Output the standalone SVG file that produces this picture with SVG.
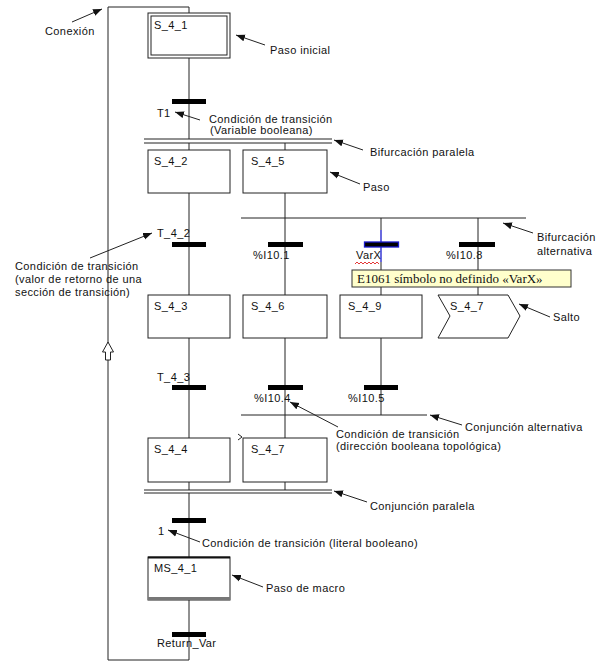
<svg xmlns="http://www.w3.org/2000/svg" width="600" height="669" viewBox="0 0 600 669">
<defs>
<marker id="ah" markerUnits="userSpaceOnUse" markerWidth="10" markerHeight="8" refX="9" refY="4" orient="auto">
<path d="M0,0.5 L9,4 L0,7.5 Z" fill="#111"/>
</marker>
<style>
text{font-family:"Liberation Sans",Arial,sans-serif;font-size:11px;letter-spacing:0.4px;fill:#111}
.st{fill:#fff;stroke:#222;stroke-width:1}
.ln{fill:none;stroke:#222;stroke-width:1}
.bar{fill:#000}
.ann{fill:none;stroke:#222;stroke-width:1;marker-end:url(#ah)}
</style>
</defs>
<rect width="600" height="669" fill="#fff"/>
<g id="connectors">
<path class="ln" d="M189,58 V139 M189,143 V150 M189,193 V295 M189,338 V438 M189,482 V490 M189,493 V557 M189,600 V660 H108 V7 H189 V13"/>
<path class="ln" d="M285,143 V150 M285,193 V295 M285,338 V438 M285,482 V490"/>
<path class="ln" d="M381,218 V230 M381,262 V295 M381,338 V415"/>
<path d="M381,230 V262" fill="none" stroke="#1a1acc" stroke-width="1.3"/>
<path class="ln" d="M478,218 V295"/>
<path class="ln" d="M144,139 H332 M144,143 H332"/>
<path class="ln" d="M241,218 H526"/>
<path class="ln" d="M241,415 H427"/>
<path class="ln" d="M144,490 H332 M144,493 H332"/>
<path d="M108,342 L102.5,352 H105.5 V360 H110.5 V352 H113.5 Z" fill="#fff" stroke="#222" stroke-width="1"/>
<path class="ln" d="M238,434 L242,437 L238,440"/>
</g>
<g id="transitions">
<rect class="bar" x="172" y="99" width="34" height="5"/>
<rect class="bar" x="172" y="242" width="34" height="5"/>
<rect class="bar" x="268" y="242" width="35" height="5"/>
<rect x="364.5" y="242" width="34" height="5" fill="#000" stroke="#1a1acc" stroke-width="1.3"/>
<rect class="bar" x="459" y="242" width="36" height="5"/>
<rect class="bar" x="172" y="385" width="34" height="5"/>
<rect class="bar" x="268" y="385" width="35" height="5"/>
<rect class="bar" x="364" y="385" width="34" height="5"/>
<rect class="bar" x="172" y="518" width="34" height="5"/>
<rect class="bar" x="172" y="632" width="34" height="5"/>
<text x="157" y="117">T1</text>
<text x="157" y="237">T_4_2</text>
<text x="253" y="259">%I10.1</text>
<text x="356" y="259">VarX</text>
<path d="M355,264 l2,-2 l2,2 l2,-2 l2,2 l2,-2 l2,2 l2,-2 l2,2 l2,-2 l2,2 l2,-2 l2,2" fill="none" stroke="#e02020" stroke-width="0.9"/>
<text x="446" y="259">%I10.8</text>
<text x="157" y="381">T_4_3</text>
<text x="254" y="402">%I10.4</text>
<text x="348" y="402">%I10.5</text>
<text x="158" y="535">1</text>
<text x="157" y="647">Return_Var</text>
</g>
<g id="S_4_1">
<rect class="st" x="148" y="13" width="82" height="45"/>
<rect class="st" x="151" y="16" width="76" height="39"/>
<text x="154" y="29">S_4_1</text>
</g>
<g id="S_4_2"><rect class="st" x="148" y="150" width="82" height="43"/><text x="154" y="165">S_4_2</text></g>
<g id="S_4_5"><rect class="st" x="243" y="150" width="84" height="43"/><text x="251" y="165">S_4_5</text></g>
<g id="S_4_3"><rect class="st" x="148" y="295" width="82" height="43"/><text x="154" y="310">S_4_3</text></g>
<g id="S_4_6"><rect class="st" x="243" y="295" width="84" height="43"/><text x="251" y="310">S_4_6</text></g>
<g id="S_4_9"><rect class="st" x="340" y="295" width="82" height="43"/><text x="348" y="310">S_4_9</text></g>
<g id="jump_S_4_7"><path class="st" d="M438,295 H508 L520,316 L508,338 H438 L450,316 Z"/><text x="450" y="310">S_4_7</text></g>
<g id="S_4_4"><rect class="st" x="148" y="438" width="82" height="44"/><text x="154" y="453">S_4_4</text></g>
<g id="S_4_7"><rect class="st" x="243" y="438" width="84" height="44"/><text x="251" y="453">S_4_7</text></g>
<g id="MS_4_1">
<rect class="st" x="148" y="557" width="82" height="43"/>
<path d="M148,557.5 H230" stroke="#111" stroke-width="2"/>
<rect x="148" y="597" width="82" height="3" fill="#777"/>
<text x="154" y="572">MS_4_1</text>
</g>
<g id="tooltip">
<rect x="352" y="270" width="219" height="17" fill="#ffffcc" stroke="#333" stroke-width="1"/>
<text x="357" y="283" style="font-family:'Liberation Serif','Times New Roman',serif;font-size:13px;letter-spacing:0">E1061 símbolo no definido «VarX»</text>
</g>
<g id="annotations">
<path class="ann" d="M72,22 L102,9"/>
<text x="45" y="35">Conexión</text>
<path class="ann" d="M265,45 L236,35"/>
<text x="270" y="54">Paso inicial</text>
<path class="ann" d="M200,120 L175,112"/>
<text x="209" y="123">Condición de transición</text>
<text x="210" y="134">(Variable booleana)</text>
<path class="ann" d="M363,150 L334,140"/>
<text x="370" y="156">Bifurcación paralela</text>
<path class="ann" d="M360,184 L330,172"/>
<text x="363" y="191">Paso</text>
<path class="ann" d="M533,233 L503,223"/>
<text x="537" y="241">Bifurcación</text>
<text x="537" y="255">alternativa</text>
<path class="ann" d="M90,258 L152,233"/>
<text x="15" y="270">Condición de transición</text>
<text x="15" y="283">(valor de retorno de una</text>
<text x="15" y="296">sección de transición)</text>
<path class="ann" d="M550,317 L519,304"/>
<text x="553" y="321">Salto</text>
<path class="ann" d="M338,427 L290,402"/>
<text x="336" y="438">Condición de transición</text>
<text x="336" y="450">(dirección booleana topológica)</text>
<path class="ann" d="M462,425 L430,415"/>
<text x="465" y="431">Conjunción alternativa</text>
<path class="ann" d="M367,502 L334,491"/>
<text x="370" y="510">Conjunción paralela</text>
<path class="ann" d="M200,542 L168,530"/>
<text x="202" y="547">Condición de transición (literal booleano)</text>
<path class="ann" d="M263,587 L232,575"/>
<text x="266" y="592">Paso de macro</text>
</g>
</svg>
